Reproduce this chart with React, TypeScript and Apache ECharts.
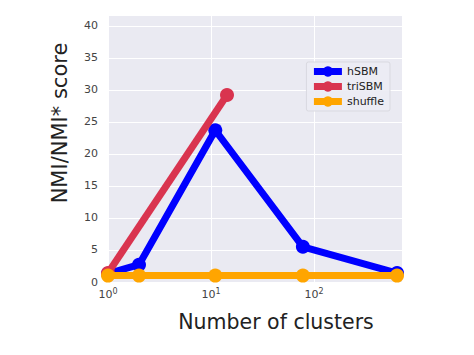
import React, { useEffect, useRef } from "react";
import * as echarts from "echarts";

const hsbmX = [1, 2, 11, 78, 640];
const hsbmY = [1.3, 2.7, 23.7, 5.5, 1.4];
const trisbmX = [1, 14.3];
const trisbmY = [1.4, 29.2];
const shuffleX = [1, 2, 11, 78, 640];
const shuffleY = [1.0, 1.0, 1.0, 1.0, 1.0];
const seriesNames = ["hSBM", "triSBM", "shuffle"];
const seriesColors = ["#0000ff", "#d9344f", "#ffa500"];
const xTickExponents: Record<number, string> = { 1: "0", 10: "1", 100: "2" };

function pairs(xs: number[], ys: number[]) {
  return xs.map((x, i) => [x, ys[i]]);
}

export default function App() {
  const ref = useRef<HTMLDivElement>(null);
  useEffect(() => {
    document.body.style.margin = "0";
    const chart = echarts.init(ref.current!, null, { renderer: "svg" });
    const datasets = [pairs(hsbmX, hsbmY), pairs(trisbmX, trisbmY), pairs(shuffleX, shuffleY)];
    chart.setOption({
      animation: false,
      backgroundColor: "#ffffff",
      grid: {
        left: 108,
        right: 72,
        top: 15,
        bottom: 73,
        show: true,
        backgroundColor: "#eaeaf2",
        borderWidth: 0,
      },
      xAxis: {
        type: "log",
        logBase: 10,
        min: 1,
        max: 715,
        axisLine: { show: false },
        axisTick: { show: false },
        splitLine: { show: true, lineStyle: { color: "#ffffff", width: 1 } },
        axisLabel: {
          showMaxLabel: false,
          color: "#444",
          fontSize: 11,
          fontFamily: "DejaVu Sans",
          margin: 5,
          formatter: (v: number) => {
            const e = xTickExponents[Math.round(v)];
            return e === undefined ? "" : `{b|10}{s|${e}}`;
          },
          rich: {
            b: { fontSize: 11, color: "#444", fontFamily: "DejaVu Sans" },
            s: { fontSize: 8, color: "#444", fontFamily: "DejaVu Sans", padding: [0, 0, 7, 0] },
          },
        },
      },
      yAxis: {
        type: "value",
        min: 0,
        max: 41.7,
        interval: 5,
        axisLine: { show: false },
        axisTick: { show: false },
        splitLine: { show: true, lineStyle: { color: "#ffffff", width: 1 } },
        axisLabel: {
          showMaxLabel: false,
          color: "#444",
          fontSize: 11,
          fontFamily: "DejaVu Sans",
          margin: 10,
        },
      },
      legend: {
        right: 84,
        top: 62,
        orient: "vertical",
        itemWidth: 28,
        itemHeight: 13,
        itemGap: 4,
        padding: [4, 6, 4, 4],
        backgroundColor: "rgba(236,236,244,0.9)",
        borderColor: "#d9d9e0",
        borderWidth: 1,
        borderRadius: 2,
        lineStyle: { width: 7 },
        textStyle: { color: "#222", fontSize: 11, fontFamily: "DejaVu Sans" },
        data: seriesNames,
      },
      graphic: [
        {
          type: "text",
          x: 60,
          y: 123,
          rotation: Math.PI / 2,
          style: {
            text: "NMI/NMI* score",
            fontSize: 21,
            fontFamily: "DejaVu Sans",
            fill: "#222",
            align: "center",
            verticalAlign: "middle",
          },
        },
        {
          type: "text",
          x: 276,
          y: 322,
          style: {
            text: "Number of clusters",
            fontSize: 20.5,
            fontFamily: "DejaVu Sans",
            fill: "#222",
            align: "center",
            verticalAlign: "middle",
          },
        },
      ],
      series: seriesNames.map((name, i) => ({
        name,
        type: "line",
        data: datasets[i],
        color: seriesColors[i],
        symbol: "circle",
        symbolSize: 14,
        z: 2 + i,
        clip: false,
        lineStyle: { width: 7, color: seriesColors[i] },
        itemStyle: { color: seriesColors[i] },
      })),
    });
    return () => chart.dispose();
  }, []);
  return <div ref={ref} style={{ width: 474, height: 355, position: "fixed", left: 0, top: 0 }} />;
}
